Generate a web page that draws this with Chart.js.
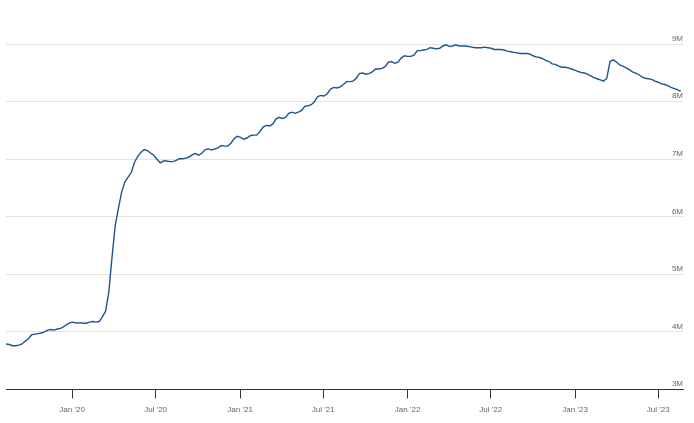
<!DOCTYPE html>
<html>
<head>
<meta charset="utf-8">
<script src="https://cdn.jsdelivr.net/npm/chart.js@4"></script>
<style>
  html, body { margin: 0; padding: 0; background: #fff; }
  #wrap { position: relative; width: 694px; height: 423px; }
</style>
</head>
<body>
<div id="wrap"><canvas id="chart"></canvas></div>
<script>
// weekly readings, millions, first week starting 10 Aug 2019
const firstWeek = "2019-08-10";
const weeklyValues = [
  3.79, 3.78, 3.76, 3.76, 3.77, 3.79, 3.84, 3.88, 3.95, 3.96,
  3.97, 3.98, 4.00, 4.03, 4.04, 4.03, 4.05, 4.06, 4.09, 4.13,
  4.16, 4.17, 4.15, 4.16, 4.15, 4.15, 4.17, 4.18, 4.17, 4.18,
  4.26, 4.36, 4.69, 5.30, 5.85, 6.15, 6.43, 6.61, 6.69, 6.77,
  6.95, 7.05, 7.12, 7.17, 7.15, 7.11, 7.07, 7.00, 6.94, 6.97,
  6.97, 6.96, 6.96, 6.98, 7.01, 7.01, 7.02, 7.04, 7.08, 7.10,
  7.07, 7.11, 7.17, 7.18, 7.16, 7.18, 7.20, 7.24, 7.23, 7.23,
  7.28, 7.36, 7.40, 7.38, 7.35, 7.37, 7.41, 7.42, 7.42, 7.48,
  7.56, 7.59, 7.58, 7.61, 7.70, 7.73, 7.71, 7.73, 7.80, 7.82,
  7.80, 7.82, 7.85, 7.92, 7.93, 7.95, 8.00, 8.09, 8.11, 8.10,
  8.14, 8.22, 8.25, 8.24, 8.26, 8.30, 8.35, 8.35, 8.36, 8.41,
  8.49, 8.50, 8.48, 8.49, 8.52, 8.57, 8.57, 8.58, 8.61, 8.69,
  8.70, 8.67, 8.69, 8.76, 8.80, 8.79, 8.79, 8.81, 8.89, 8.89,
  8.90, 8.91, 8.94, 8.93, 8.92, 8.93, 8.97, 8.99, 8.96, 8.97,
  8.99, 8.97, 8.97, 8.97, 8.96, 8.95, 8.94, 8.94, 8.94, 8.95,
  8.94, 8.93, 8.91, 8.91, 8.91, 8.90, 8.88, 8.87, 8.86, 8.85,
  8.84, 8.84, 8.84, 8.83, 8.80, 8.78, 8.77, 8.75, 8.72, 8.70,
  8.66, 8.65, 8.62, 8.60, 8.60, 8.59, 8.57, 8.55, 8.53, 8.51,
  8.50, 8.48, 8.45, 8.42, 8.40, 8.38, 8.36, 8.41, 8.70, 8.73,
  8.69, 8.64, 8.62, 8.59, 8.56, 8.52, 8.50, 8.47, 8.43, 8.41,
  8.40, 8.39, 8.36, 8.34, 8.31, 8.30, 8.28, 8.25, 8.23, 8.21, 8.18
];

const xTickDates = ["2020-01-01", "2020-07-01", "2021-01-01", "2021-07-01",
                    "2022-01-01", "2022-07-01", "2023-01-01", "2023-07-01"];
const xTickLabels = ["Jan '20", "Jul '20", "Jan '21", "Jul '21",
                     "Jan '22", "Jul '22", "Jan '23", "Jul '23"];
const yTicks = [3, 4, 5, 6, 7, 8, 9];

const DAY = 24 * 60 * 60 * 1000;
const start = Date.parse(firstWeek);
const points = weeklyValues.map((v, i) => ({ x: start + i * 7 * DAY, y: v }));

const font = { family: "'Liberation Sans', Arial, sans-serif", size: 8 };

new Chart(document.getElementById("chart"), {
  type: "line",
  data: {
    datasets: [{
      data: points,
      borderColor: "#1d5591",
      borderWidth: 1.4,
      pointRadius: 0,
      tension: 0,
      fill: false
    }]
  },
  options: {
    responsive: true,
    maintainAspectRatio: false,
    animation: false,
    layout: { padding: { left: 6, right: 11, top: 15.5, bottom: 1 } },
    plugins: { legend: { display: false }, tooltip: { enabled: false } },
    scales: {
      x: {
        type: "linear",
        min: start,
        max: start + 1475 * DAY,
        afterBuildTicks: (scale) => {
          scale.ticks = xTickDates.map(d => ({ value: Date.parse(d) }));
        },
        grid: { drawOnChartArea: false, drawTicks: true, tickLength: 9, color: "#333", lineWidth: 1 },
        border: { display: true, color: "#333", width: 1 },
        ticks: {
          autoSkip: false,
          maxRotation: 0,
          padding: 7,
          color: "#666",
          font: font,
          callback: (value, index) => xTickLabels[index]
        }
      },
      y: {
        position: "right",
        min: 3,
        max: 9.5,
        afterBuildTicks: (scale) => {
          scale.ticks = yTicks.map(v => ({ value: v }));
        },
        grid: { color: "#e3e3e3", lineWidth: 1, drawTicks: false },
        border: { display: false },
        ticks: {
          mirror: true,
          padding: 0,
          labelOffset: -5.5,
          color: "#666",
          font: font,
          callback: (value) => value + "M"
        }
      }
    }
  }
});
</script>
</body>
</html>
